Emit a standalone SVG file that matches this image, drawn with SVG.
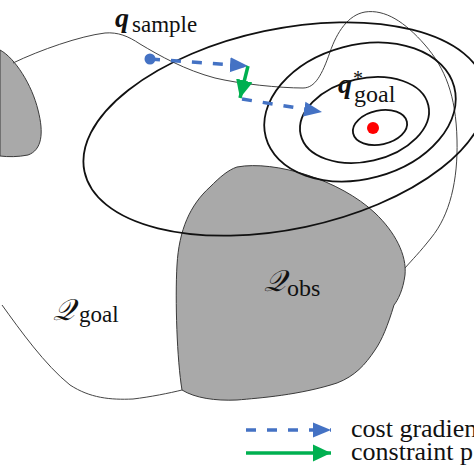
<svg xmlns="http://www.w3.org/2000/svg" width="474" height="474" viewBox="0 0 474 474">
<defs>
<style>
.obs{fill:#a9a9a9;stroke:#3a3a3a;stroke-width:1}
.thin{fill:none;stroke:#444;stroke-width:1}
.cont{fill:none;stroke:#111;stroke-width:1.8}
.blue{fill:none;stroke:#4472c4;stroke-width:3.5;stroke-dasharray:10 11}
.green{fill:none;stroke:#00b050;stroke-width:3.5}
.t{font-family:"Liberation Serif","Times New Roman",serif;fill:#111}
.qi{font-style:italic;font-weight:bold}
.cal{font-family:"DejaVu Serif","DejaVu Sans","Liberation Serif",serif;font-style:italic}
</style>
<marker id="hb" markerUnits="userSpaceOnUse" markerWidth="20" markerHeight="16" refX="18" refY="8" orient="auto"><path d="M0,0.5 L18,8 L0,15.5 Z" fill="#4472c4"/></marker>
<marker id="hg" markerUnits="userSpaceOnUse" markerWidth="20" markerHeight="18" refX="18" refY="9" orient="auto"><path d="M0,0.5 L18,9 L0,17.5 Z" fill="#00b050"/></marker>
</defs>
<rect width="474" height="474" fill="#fff"/>
<g id="obstacle-left"><path class="obs" d="M0,50 C15,58 32,85 38,110 C44,133 42,150 28,155 C18,157 8,157 0,156 Z"/></g>
<g id="obstacle-main"><path class="obs" d="M237,167 C275,160 340,180 375,213 C395,232 407,255 405,275 C403,290 398,300 394,305 C388,325 382,340 375,350 C365,365 355,376 337,383 C300,395 260,398 237,400 C215,401 195,398 182,390 C177,360 175,300 177,265 C179,230 190,205 210,187 C220,177 228,170 237,167 Z"/></g>
<g id="goal-region">
<path class="thin" d="M13,63 C40,50 80,36 105,33 C118,32 128,36 140,44 C160,56 185,70 215,78 C240,84 280,88 303,88 C315,88 322,75 330,52 C337,32 348,15 365,12 C385,9 405,22 425,45 C445,68 456,95 457,140 C458,180 450,215 431,238 C420,252 412,260 405,268"/>
<path class="thin" d="M2,305 C20,330 45,365 70,385 C90,398 110,400 133,399 C150,397 170,393 182,390"/>
</g>
<g id="contours">
<ellipse class="cont" cx="285" cy="129" rx="205" ry="100" transform="rotate(-12 285 129)"/>
<ellipse class="cont" cx="360" cy="112" rx="97.5" ry="67" transform="rotate(-15 360 112)"/>
<ellipse class="cont" cx="364.5" cy="120" rx="65.5" ry="41.5" transform="rotate(-13 364.5 120)"/>
<ellipse class="cont" cx="380" cy="127.5" rx="27.5" ry="17" transform="rotate(-12 380 127.5)"/>
</g>
<g id="q-goal-star">
<circle cx="373" cy="128" r="6" fill="#ff0000"/>
<text class="t" x="338" y="93" font-size="28"><tspan class="qi">q</tspan><tspan x="353" y="85" font-size="20">*</tspan><tspan x="354" y="102" font-size="24">goal</tspan></text>
</g>
<g id="q-sample">
<circle cx="150" cy="59" r="5.5" fill="#4472c4"/>
<text class="t" x="115" y="27" font-size="28"><tspan class="qi">q</tspan><tspan x="132" y="32" font-size="23">sample</tspan></text>
</g>
<g id="label-Qgoal"><text class="t" x="53" y="320" font-size="30"><tspan class="cal">𝒬</tspan><tspan x="79" y="322" font-size="23">goal</tspan></text></g>
<g id="label-Qobs"><text class="t" x="264" y="291" font-size="30"><tspan class="cal">𝒬</tspan><tspan x="287" y="296" font-size="24">obs</tspan></text></g>
<g id="connectors">
<line class="blue" x1="150" y1="59" x2="248" y2="66" marker-end="url(#hb)"/>
<line class="green" x1="248" y1="66" x2="240" y2="98" marker-end="url(#hg)"/>
<line class="blue" x1="242" y1="99" x2="322" y2="112" marker-end="url(#hb)"/>
</g>
<g id="legend">
<line class="blue" x1="246" y1="430" x2="331" y2="430" marker-end="url(#hb)"/>
<line class="green" x1="246" y1="453" x2="331" y2="453" marker-end="url(#hg)"/>
<text class="t" font-size="26"><tspan x="351" y="437">cost gradien</tspan><tspan x="351" y="460">constraint p</tspan></text>
</g>
</svg>
